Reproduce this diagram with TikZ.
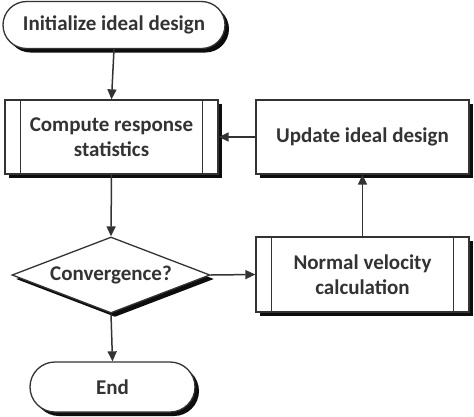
\documentclass[tikz,border=0pt]{standalone}
\usepackage{fontspec}
\setmainfont{Carlito}
\usetikzlibrary{shapes.geometric,shapes.misc,shadows,arrows.meta}
\definecolor{ink}{HTML}{333333}
\begin{document}
\begin{tikzpicture}[x=1pt,y=-1pt,
  base/.style={draw=ink, line width=1.3pt, fill=white, text=ink,
    font=\bfseries\fontsize{21}{25}\selectfont, align=center, inner sep=0pt,
    drop shadow={shadow xshift=4pt, shadow yshift=-4pt, fill=black, opacity=0.95}},
  term/.style={base, rounded rectangle},
  proc/.style={base, rectangle},
  dec/.style={base, diamond, aspect=2.75},
  conn/.style={draw=ink, line width=1.5pt, -{Triangle[length=10pt,width=9pt]}},
  bar/.style={draw=ink, line width=1pt}]
\useasboundingbox (0,0) rectangle (474,416);
\node[term, minimum width=222pt, minimum height=47pt] (init) at (114,25) {Initialize ideal design};
\node[proc, minimum width=213pt, minimum height=74pt] (comp) at (111.5,137) {Compute response\\statistics};
\node[proc, minimum width=213pt, minimum height=74pt] (upd) at (362.5,137) {Update ideal design};
\node[dec, minimum width=198pt, minimum height=76pt] (conv) at (111,275) {Convergence?};
\node[proc, minimum width=213pt, minimum height=75pt] (norm) at (362.5,274.5) {Normal velocity\\calculation};
\node[term, minimum width=165pt, minimum height=50pt] (end) at (112.5,387) {End};
\draw[bar] ([xshift=16pt]comp.north west) -- ([xshift=16pt]comp.south west);
\draw[bar] ([xshift=-16pt]comp.north east) -- ([xshift=-16pt]comp.south east);
\draw[bar] ([xshift=16pt]norm.north west) -- ([xshift=16pt]norm.south west);
\draw[bar] ([xshift=-16pt]norm.north east) -- ([xshift=-16pt]norm.south east);
\draw[conn] (init.south) -- (comp.north);
\draw[conn] (comp.south) -- (conv.north);
\draw[conn] (conv.south) -- (end.north);
\draw[conn] (conv.east) -- (norm.west);
\draw[conn] (norm.north) -- (upd.south);
\draw[conn] (upd.west) -- (comp.east);
\end{tikzpicture}
\end{document}
